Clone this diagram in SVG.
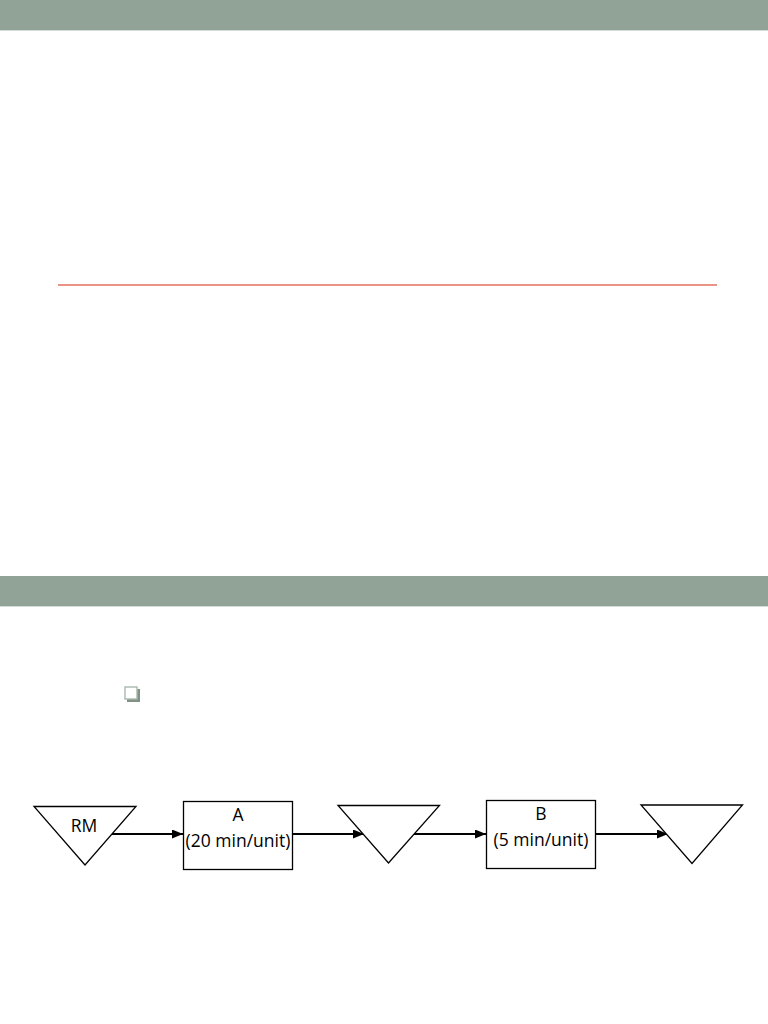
<svg xmlns="http://www.w3.org/2000/svg" width="768" height="1024" viewBox="0 0 768 1024">
<style>
.bar{fill:#91A296}
.shape{fill:#fff;stroke:#000;stroke-width:1.3}
.lbl{font-family:"Open Sans","Liberation Sans",sans-serif;font-size:17.5px;fill:#000;text-anchor:middle}
.conn{stroke:#000;stroke-width:1.8;fill:none}
</style>
<defs>
<marker id="arr" markerWidth="11" markerHeight="9" refX="11" refY="4.5" orient="auto" markerUnits="userSpaceOnUse">
<path d="M0,0 L11,4.5 L0,9 Z" fill="#000"/>
</marker>
</defs>
<rect width="768" height="1024" fill="#fff"/>
<rect class="bar" x="0" y="0" width="768" height="30"/>
<rect x="0" y="30" width="768" height="1" fill="#d3ddd6"/>
<line x1="58" y1="285" x2="717" y2="285" stroke="#E4705E" stroke-width="1.5"/>
<rect class="bar" x="0" y="576" width="768" height="30"/>
<rect x="0" y="606" width="768" height="1" fill="#d3ddd6"/>
<g id="bullet">
<rect x="127" y="689" width="13" height="13" fill="#7f9284"/>
<rect x="125" y="687" width="12" height="12" fill="#fff" stroke="#a9b8ad" stroke-width="1.4"/>
</g>
<g id="connectors">
<line class="conn" x1="112" y1="834" x2="183" y2="834" marker-end="url(#arr)"/>
<line class="conn" x1="293" y1="834" x2="364" y2="834" marker-end="url(#arr)"/>
<line class="conn" x1="413" y1="834" x2="486" y2="834" marker-end="url(#arr)"/>
<line class="conn" x1="596" y1="834" x2="668" y2="834" marker-end="url(#arr)"/>
</g>
<g id="rm">
<polygon class="shape" points="34,806.5 136,806.5 85,865"/>
<text class="lbl" x="84" y="832">RM</text>
</g>
<g id="a">
<rect class="shape" x="183.5" y="801.5" width="109" height="68"/>
<text class="lbl" x="238" y="821">A</text>
<text class="lbl" x="238" y="847">(20 min/unit)</text>
</g>
<g id="inv1">
<polygon class="shape" points="338,805.5 439.5,805.5 388.5,863"/>
</g>
<g id="b">
<rect class="shape" x="486.5" y="800.5" width="109" height="68"/>
<text class="lbl" x="541" y="820">B</text>
<text class="lbl" x="541" y="846">(5 min/unit)</text>
</g>
<g id="inv2">
<polygon class="shape" points="641,805 742.5,805 692,863.5"/>
</g>
</svg>
